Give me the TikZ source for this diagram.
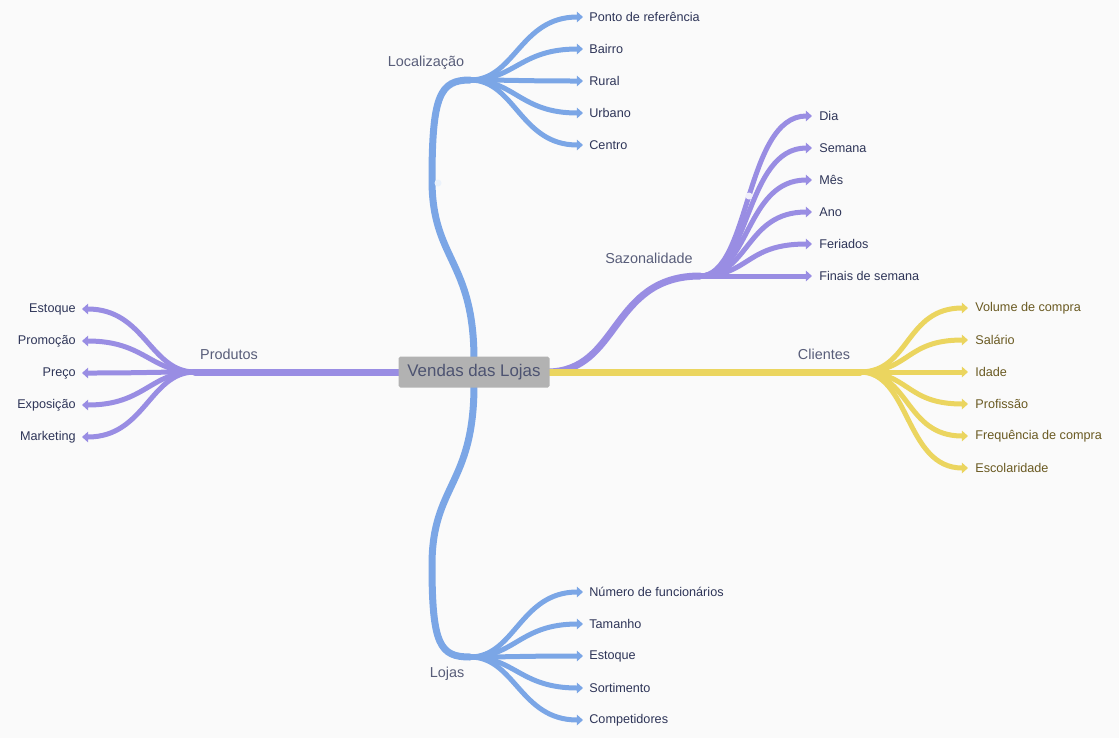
\documentclass[tikz,border=0pt]{standalone}
\usepackage{fontspec}
\setmainfont{Liberation Sans}
\usetikzlibrary{arrows.meta}
\definecolor{bl}{HTML}{7BA6E6}
\definecolor{pu}{HTML}{998DE3}
\definecolor{ye}{HTML}{EBD55F}
\definecolor{tx}{HTML}{2E3558}
\definecolor{ty}{HTML}{6A5A22}
\definecolor{bg}{HTML}{FAFAFA}
\tikzset{
 br/.style={line width=0.14cm,line cap=round},
 lf/.style={line width=0.1cm,-{Triangle[length=3.5pt,width=6pt]}},
 lt/.style={font=\fontsize{7.2pt}{8pt}\selectfont,text=tx,inner sep=0pt},
 bt/.style={font=\fontsize{8.2pt}{9pt}\selectfont,text=tx!80,inner sep=0pt},
}
\begin{document}
\begin{tikzpicture}[x=0.02cm,y=-0.02cm]
\fill[bg] (0,0) rectangle (1119,738);
\useasboundingbox (0,0) rectangle (1119,738);
% hubs
\coordinate (c) at (474,372);
\coordinate (hl) at (470,80);
\coordinate (hj) at (470,657);
\coordinate (hp) at (195,372);
\coordinate (hs) at (700,276);
\coordinate (hc) at (860,372);
% main branches
\draw[br,bl] (474,360) .. controls (474,260) and (432,260) .. (432,180) .. controls (432,95) and (440,80) .. (hl);
\draw[br,bl] (474,385) .. controls (474,485) and (432,485) .. (432,565) .. controls (432,645) and (440,657) .. (hj);
\draw[br,pu] (400,372) -- (hp);
\draw[br,pu] (547,372) .. controls (620,372) and (610,276) .. (hs);
\draw[br,ye] (547,372) -- (hc);
\fill[white!85!bl] (438,183) circle (3.5);
% center
\node[fill=black!30,rounded corners=1pt,minimum width=151*0.02cm,minimum height=31*0.02cm,inner sep=0pt,font=\fontsize{9.6pt}{11pt}\selectfont,text=tx!85] (center) at (c) {Vendas das Lojas};
% labels
\node[bt] (Lloc) at (426,63) {Localização};
\node[bt] (Lloj) at (447,674) {Lojas};
\node[bt] (Lpro) at (229,354) {Produtos};
\node[bt] (Lsaz) at (649,258) {Sazonalidade};
\node[bt] (Lcli) at (824,354) {Clientes};
% Localizacao leaves
\foreach \y/\t [count=\i] in {17/Ponto de referência,49/Bairro,81/Rural,113/Urbano,145/Centro}{
 \coordinate (la\i) at (583,\y);
 \draw[lf,bl] (hl) .. controls (515,80) and (520,\y) .. (la\i);
 \node[lt,anchor=west] (ta\i) at (589,\y) {\t};}
% Lojas leaves
\foreach \y/\t [count=\i] in {592/Número de funcionários,624/Tamanho,656/Estoque,688/Sortimento,720/Competidores}{
 \coordinate (lb\i) at (583,\y);
 \draw[lf,bl] (hj) .. controls (515,657) and (520,\y) .. (lb\i);
 \node[lt,anchor=west] (tb\i) at (589,\y) {\t};}
% Produtos leaves
\foreach \y/\t [count=\i] in {309/Estoque,341/Promoção,373/Preço,405/Exposição,437/Marketing}{
 \coordinate (lc\i) at (82,\y);
 \draw[lf,pu] (hp) .. controls (150,372) and (145,\y) .. (lc\i);
 \node[lt,anchor=east] (tc\i) at (76,\y) {\t};}
% Sazonalidade leaves
\foreach \y/\t [count=\i] in {116/Dia,148/Semana,180/Mês,212/Ano,244/Feriados,276/Finais de semana}{
 \coordinate (ld\i) at (812,\y);
 \draw[lf,pu] (hs) .. controls (750,276) and (745,\y) .. (ld\i);
 \node[lt,anchor=west] (td\i) at (819,\y) {\t};}
\fill[white!85!pu] (749,196) circle (3.5);
% Clientes leaves
\foreach \y/\t [count=\i] in {308/Volume de compra,340/Salário,372/Idade,404/Profissão,436/Frequência de compra,468/Escolaridade}{
 \coordinate (le\i) at (968,\y);
 \draw[lf,ye] (hc) .. controls (910,372) and (905,\y) .. (le\i);
 \node[lt,anchor=west,text=ty] (te\i) at (975,\y) {\t};}
\end{tikzpicture}
\end{document}
